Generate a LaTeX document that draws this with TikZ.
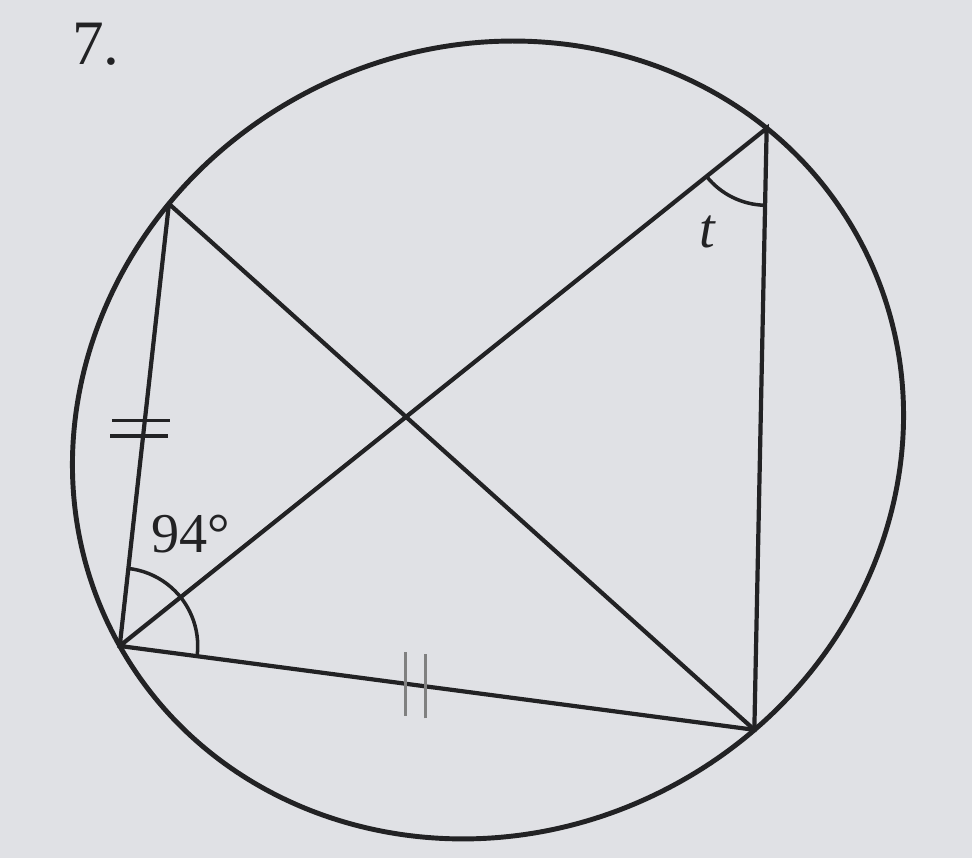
\documentclass[tikz,border=0pt]{standalone}
\usepackage{fontspec}
\setmainfont{Liberation Serif}
\usetikzlibrary{angles,calc}
\definecolor{paper}{RGB}{224,225,229}
\definecolor{ink}{RGB}{34,34,36}

\begin{document}
\begin{tikzpicture}[
  seg/.style={draw=ink, line width=1.2pt},
  tick/.style={draw=ink, line width=1pt},
  lbl/.style={text=ink, font=\fontsize{16}{18}\selectfont, inner sep=0pt}
]
\fill[paper] (0,0) rectangle (9.72,8.58);
\useasboundingbox (0,0) rectangle (9.72,8.58);
% circle with the four points on it
\begin{scope}[shift={(4.88,4.18)}, rotate=28.2]
\draw[seg, line width=1.4pt] (0,0) ellipse[x radius=4.22cm, y radius=3.92cm];
\coordinate (A) at (113.7:4.22cm and 3.92cm);
\coordinate (B) at (21.4:4.22cm and 3.92cm);
\coordinate (C) at (181.1:4.22cm and 3.92cm);
\coordinate (D) at (283.4:4.22cm and 3.92cm);
\end{scope}
% chords
\draw[seg] (A)--(C)--(D)--(B)--(C);
\draw[seg] (A)--(D);
% angle marks
\pic[draw=ink, line width=1pt, angle radius=0.78cm] {angle=D--C--A};
\pic[draw=ink, line width=1pt, angle radius=0.77cm] {angle=C--B--D};
% equal sides
\coordinate (ac1) at ($(A)!0.49!(C)$);
\coordinate (ac2) at ($(A)!0.525!(C)$);
\draw[tick] (ac1)+(-0.33,0)--+(0.25,0);
\draw[tick] (ac2)+(-0.33,0)--+(0.25,0);
\coordinate (cd1) at ($(C)!0.45!(D)$);
\coordinate (cd2) at ($(C)!0.482!(D)$);
\draw[tick, draw=gray] (cd1)+(0,-0.32)--+(0,0.32);
\draw[tick, draw=gray] (cd2)+(0,-0.32)--+(0,0.32);
% labels
\node[lbl, font=\fontsize{18}{20}\selectfont] (num) at (0.96,8.14) {7.};
\node[lbl] (deg) at (1.91,3.24) {94°};
\node[lbl, font=\fontsize{16}{18}\selectfont\itshape] (tee) at (7.07,6.26) {t};
\end{tikzpicture}
\end{document}
